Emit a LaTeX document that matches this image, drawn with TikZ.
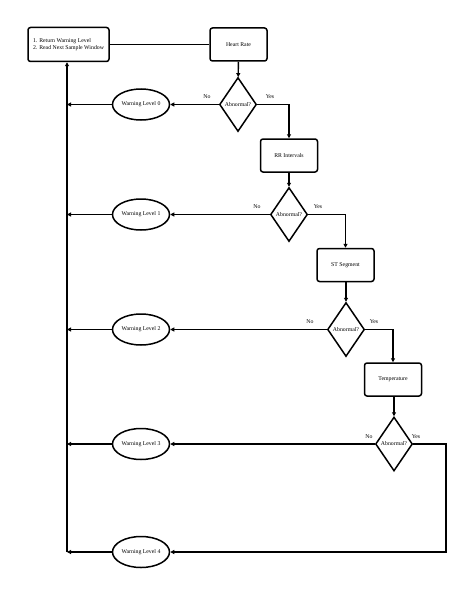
\documentclass[tikz,border=0pt]{standalone}
\usepackage{fontspec}
\setmainfont{Liberation Serif}
\usetikzlibrary{shapes.geometric,arrows.meta}
\begin{document}
\begin{tikzpicture}[x=1pt,y=-1pt,
  every node/.style={font=\fontsize{5.8}{7}\selectfont},
  box/.style={draw,line width=1.5pt,rounded corners=2.5pt,minimum width=57pt,minimum height=33pt,inner sep=0pt},
  oval/.style={draw,line width=1.5pt,ellipse,minimum width=57pt,minimum height=31pt,inner sep=0pt},
  dia/.style={draw,line width=1.5pt,diamond,minimum width=37pt,minimum height=54pt,inner sep=0pt},
  lbl/.style={inner sep=0pt},
  conn/.style={line width=1.4pt},
  arr/.style={line width=1.4pt,-{Triangle[length=4pt,width=4pt]}}]
\useasboundingbox (0,0) rectangle (474,594);
% boxes
\node[box,minimum width=81pt,minimum height=34pt,align=left] (ret) at (68.5,44.5) {1. Return Warning Level\\2. Read Next Sample Window};
\node[box] (hr) at (238.5,44.5) {Heart Rate};
\node[box] (rr) at (289,155.5) {RR Intervals};
\node[box] (st) at (345.5,265) {ST Segment};
\node[box] (tp) at (393,379.5) {Temperature};
% diamonds
\node[dia] (d1) at (238,104.5) {Abnormal?};
\node[dia] (d2) at (289,214.5) {Abnormal?};
\node[dia] (d3) at (346,329.5) {Abnormal?};
\node[dia] (d4) at (394,444) {Abnormal?};
% ellipses
\node[oval] (w0) at (141,104.5) {Warning Level 0};
\node[oval] (w1) at (141,214.5) {Warning Level 1};
\node[oval] (w2) at (141,329.5) {Warning Level 2};
\node[oval] (w3) at (141,444) {Warning Level 3};
\node[oval] (w4) at (141,552) {Warning Level 4};
% labels
\node[lbl] (n1) at (207,97) {No};
\node[lbl] (y1) at (270,97) {Yes};
\node[lbl] (n2) at (257,207) {No};
\node[lbl] (y2) at (318,207) {Yes};
\node[lbl] (n3) at (310,322) {No};
\node[lbl] (y3) at (374,322) {Yes};
\node[lbl] (n4) at (369,437) {No};
\node[lbl] (y4) at (416,437) {Yes};
% coordinates
\coordinate (bot) at (67,552);
\coordinate (rc) at (446,444);
% connectors
\draw[conn] (ret.east) -- (hr.west);
\draw[arr] (hr) -- (d1);
\draw[arr] (d1.east) -| (rr.north);
\draw[arr] (rr) -- (d2);
\draw[arr] (d2.east) -| (st.north);
\draw[arr] (st.south -| d3) -- (d3);
\draw[arr] (d3.east) -| (tp.north);
\draw[arr] (tp.south -| d4) -- (d4);
\draw[arr] (d4.east) -- (rc) |- (w4.east);
\draw[arr] (d1) -- (w0);
\draw[arr] (d2) -- (w1);
\draw[arr] (d3) -- (w2);
\draw[arr] (d4) -- (w3);
\draw[arr] (w0.west) -- (w0.west -| bot);
\draw[arr] (w1.west) -- (w1.west -| bot);
\draw[arr] (w2.west) -- (w2.west -| bot);
\draw[arr] (w3.west) -- (w3.west -| bot);
\draw[arr] (w4.west) -- (bot);
\draw[arr] (bot) -- (bot |- ret.south);
\end{tikzpicture}
\end{document}
